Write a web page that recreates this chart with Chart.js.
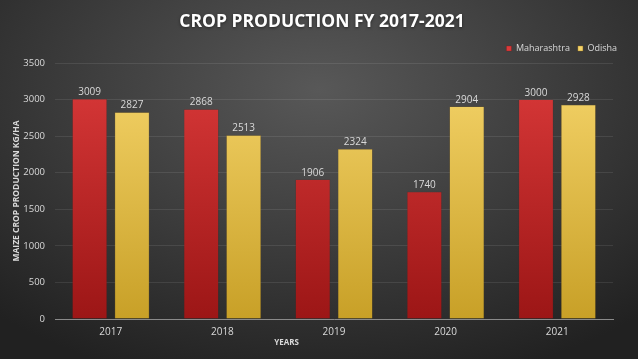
<!DOCTYPE html>
<html><head><meta charset="utf-8">
<script src="https://cdn.jsdelivr.net/npm/chart.js@4.4.1/dist/chart.umd.min.js"></script>
<style>
html,body{margin:0;padding:0;}
body{width:638px;height:359px;background:radial-gradient(ellipse 75% 85% at 50% 25%, #585858 0%, #3a3a3a 55%, #212121 100%);overflow:hidden;}
#wrap{position:absolute;left:0;top:0;width:638px;height:359px;}
</style></head>
<body><div id="wrap"><canvas id="c" width="638" height="359"></canvas></div>
<script>
const categories = ["2017","2018","2019","2020","2021"];
const maharashtra = [3009,2868,1906,1740,3000];
const odisha = [2827,2513,2324,2904,2928];
const yTicks = [0,500,1000,1500,2000,2500,3000,3500];
const chartTitle = 'CROP PRODUCTION FY 2017-2021';

const FONT = "'Open Sans', 'Noto Sans', sans-serif";
function grad(ctx, top, bottom){
  const ch = ctx.chart; const a = ch.chartArea;
  if(!a) return top;
  const g = ch.ctx.createLinearGradient(0, a.top, 0, a.bottom);
  g.addColorStop(0, top); g.addColorStop(1, bottom);
  return g;
}
const labelPlugin = {
  id:'labels',
  afterDatasetsDraw(chart){
    const c = chart.ctx;
    c.save();
    c.font = "10px " + FONT;
    c.fillStyle = "#d9d9d9";
    c.textAlign = "center"; c.textBaseline = "alphabetic";
    chart.data.datasets.forEach((ds,i)=>{
      chart.getDatasetMeta(i).data.forEach((bar,j)=>{
        c.fillText(ds.data[j], bar.x, bar.y - 4);
      });
    });
    const a = chart.chartArea;
    c.font = "bold 8px " + FONT;
    c.textBaseline = "middle";
    c.fillText("YEARS", a.left + (a.right - a.left) * 0.415, 343);
    const t = chart.titleBlock;
    c.font = "bold 17.5px " + FONT;
    c.fillStyle = "#ffffff";
    c.shadowColor = "rgba(0,0,0,0.5)"; c.shadowBlur = 3; c.shadowOffsetY = 1;
    c.fillText(chartTitle, chart.width/2 + 3, t.top + 12 + 10.5);
    c.restore();
  }
};
new Chart(document.getElementById('c'), {
  type:'bar',
  data:{
    labels: categories,
    datasets:[
      {label:'Maharashtra', data: maharashtra,
       backgroundColor: ctx=>grad(ctx,'#db3a3a','#9c1616'),
       borderColor:'rgba(120,20,20,0.6)', borderWidth:0.5},
      {label:'Odisha', data: odisha,
       backgroundColor: ctx=>grad(ctx,'#f6d56b','#c8a027'),
       borderColor:'rgba(150,110,20,0.7)', borderWidth:0.5}
    ]
  },
  options:{
    responsive:false, animation:false,
    categoryPercentage:0.76, barPercentage:0.82,
    layout:{padding:{left:0,right:13,top:0,bottom:0}},
    plugins:{
      title:{display:true, text:chartTitle, color:'rgba(0,0,0,0)',
        font:{family:FONT, size:17.5, weight:'bold'}, padding:{top:12,bottom:3}},
      legend:{display:true, position:'top', align:'end',
        labels:{color:'#d9d9d9', font:{family:FONT,size:9}, boxWidth:5, boxHeight:5, padding:8}},
      tooltip:{enabled:false}
    },
    scales:{
      x:{
        afterFit(axis){ axis.height = 40; },
        grid:{display:false, drawTicks:false},
        border:{color:'#8a8a8a', width:1},
        ticks:{color:'#d9d9d9', font:{family:FONT,size:10}, padding:7},
        title:{display:false}
      },
      y:{
        min:0, max:3500,
        afterFit(axis){ axis.width = 55; },
        afterBuildTicks(axis){ axis.ticks = yTicks.map(v=>({value:v})); },
        grid:{color:'rgba(255,255,255,0.09)', drawTicks:false},
        border:{display:false},
        ticks:{color:'#d9d9d9', font:{family:FONT,size:9.5}, padding:10, callback:v=>String(v)},
        title:{display:true, text:'MAIZE CROP PRODUCTION KG/HA', color:'#d9d9d9', font:{family:FONT,size:8.5,weight:'bold'}, padding:{top:11,bottom:2}}
      },
      y2:{
        position:'right', min:0, max:1,
        afterFit(axis){ axis.width = 12; },
        grid:{display:false, drawTicks:false}, border:{display:false},
        ticks:{display:false}
      }
    }
  },
  plugins:[labelPlugin]
});
</script></body></html>
